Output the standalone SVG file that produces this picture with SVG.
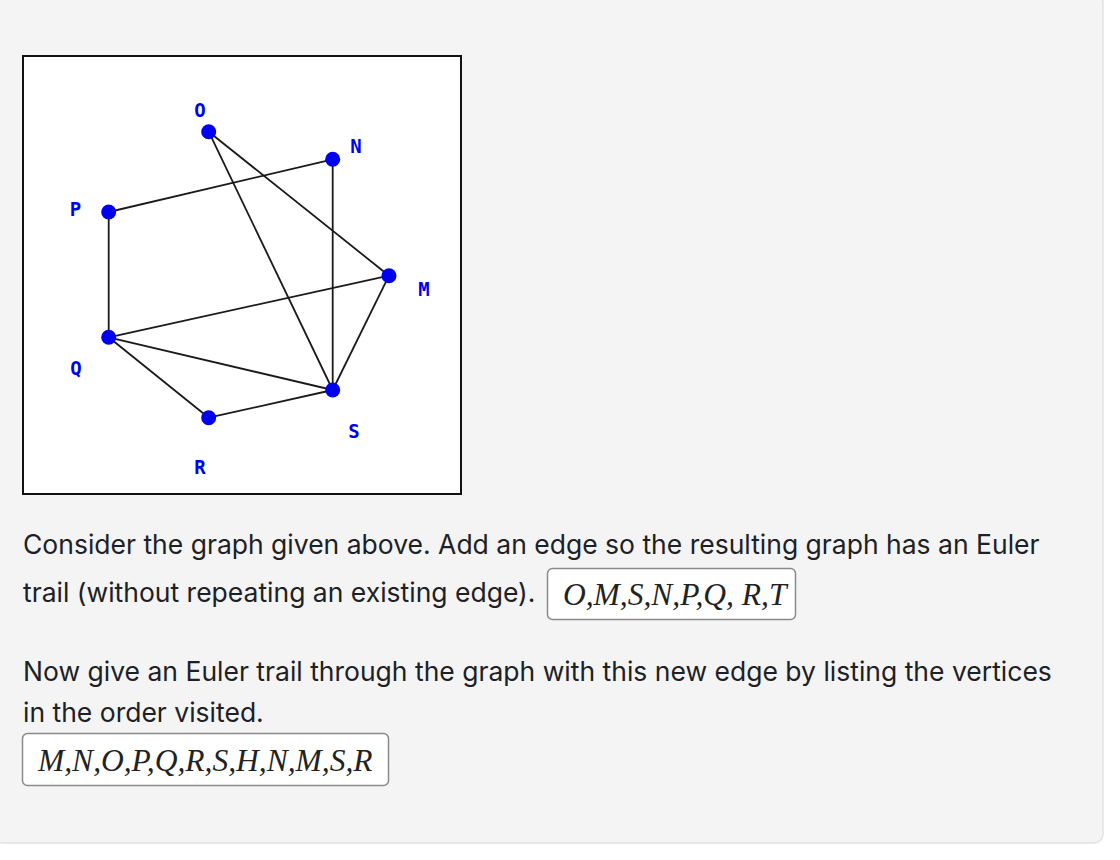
<svg xmlns="http://www.w3.org/2000/svg" width="1120" height="860" viewBox="0 0 1120 860">
<style>
.edge{stroke:#1a1a1a;stroke-width:1.8;fill:none}
.dot{fill:#0000f0}
.lbl{fill:#0000f0;font-family:"DejaVu Sans Mono",monospace;font-weight:bold;font-size:19px;text-anchor:middle}
.txt{fill:#1d2125;font-family:Inter,"Noto Sans",sans-serif;font-size:26.5px}
.box{fill:#fff;stroke:#8a8a8a;stroke-width:1.5}
.ans{fill:#222;font-family:"Liberation Serif",serif;font-style:italic;font-size:31.5px}
</style>
<rect x="0" y="0" width="1120" height="860" fill="#fff"/>
<rect x="-6" y="-6" width="1109" height="849" rx="9" fill="#f4f4f4" stroke="#e2e2e2" stroke-width="1.5"/>
<rect x="23" y="56" width="438" height="438" fill="#fff" stroke="#111" stroke-width="2"/>
<g id="edges">
<line class="edge" x1="208.7" y1="131.7" x2="332.7" y2="390"/>
<line class="edge" x1="208.7" y1="131.7" x2="389" y2="275.7"/>
<line class="edge" x1="332.7" y1="159.3" x2="108.7" y2="212"/>
<line class="edge" x1="332.7" y1="159.3" x2="332.7" y2="390"/>
<line class="edge" x1="108.7" y1="212" x2="108.7" y2="337.3"/>
<line class="edge" x1="389" y1="275.7" x2="108.7" y2="337.3"/>
<line class="edge" x1="389" y1="275.7" x2="332.7" y2="390"/>
<line class="edge" x1="108.7" y1="337.3" x2="332.7" y2="390"/>
<line class="edge" x1="108.7" y1="337.3" x2="208.7" y2="417.7"/>
<line class="edge" x1="208.7" y1="417.7" x2="332.7" y2="390"/>
</g>
<g id="node-O"><circle class="dot" cx="208.7" cy="131.7" r="7.5"/><text class="lbl" x="200" y="117">O</text></g>
<g id="node-N"><circle class="dot" cx="332.7" cy="159.3" r="7.5"/><text class="lbl" x="356" y="153">N</text></g>
<g id="node-P"><circle class="dot" cx="108.7" cy="212" r="7.5"/><text class="lbl" x="75.5" y="216">P</text></g>
<g id="node-M"><circle class="dot" cx="389" cy="275.7" r="7.5"/><text class="lbl" x="424" y="296">M</text></g>
<g id="node-Q"><circle class="dot" cx="108.7" cy="337.3" r="7.5"/><text class="lbl" x="76" y="375">Q</text></g>
<g id="node-S"><circle class="dot" cx="332.7" cy="390" r="7.5"/><text class="lbl" x="354" y="438">S</text></g>
<g id="node-R"><circle class="dot" cx="208.7" cy="417.7" r="7.5"/><text class="lbl" x="200" y="474">R</text></g>
<g id="question">
<text class="txt" x="23" y="554">Consider the graph given above. Add an edge so the resulting graph has an Euler</text>
<text class="txt" x="23" y="602">trail (without repeating an existing edge).</text>
<rect class="box" x="547.5" y="568.5" width="248" height="51" rx="5"/>
<text class="ans" x="563" y="605">O,M,S,N,P,Q, R,T</text>
<text class="txt" x="23" y="681">Now give an Euler trail through the graph with this new edge by listing the vertices</text>
<text class="txt" x="23" y="722">in the order visited.</text>
<rect class="box" x="22.5" y="733.5" width="366" height="52" rx="5"/>
<text class="ans" x="38" y="771">M,N,O,P,Q,R,S,H,N,M,S,R</text>
</g>
</svg>
